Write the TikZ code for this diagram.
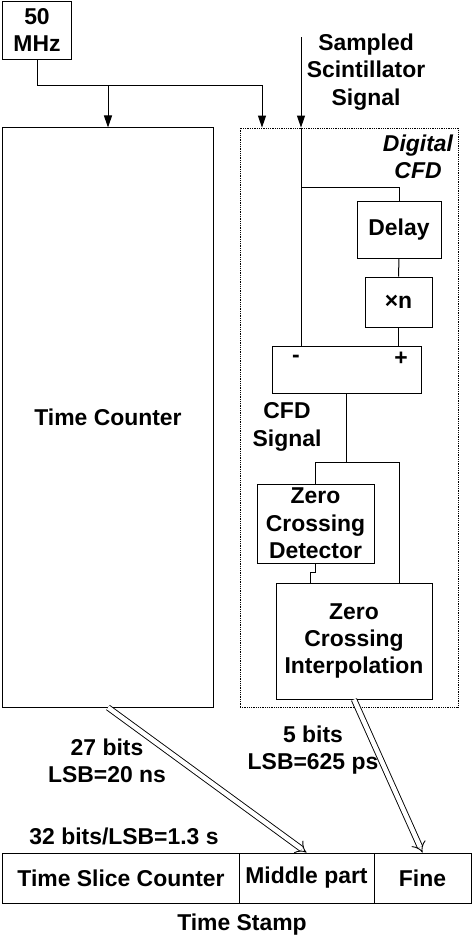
\documentclass[tikz,border=0pt]{standalone}
\usepackage{fontspec}
\setmainfont{Liberation Sans}
\usetikzlibrary{arrows.meta, positioning, calc}

\tikzset{
  blk/.style={draw, line width=1bp, align=center, inner sep=0pt},
  lbl/.style={align=center, inner sep=0pt},
  wire/.style={line width=1bp},
  feed/.style={wire, -{Triangle[length=12bp, width=8bp]}},
  bus/.style={line width=0.9bp, double, double distance=4.5bp, -{Implies[scale=1.5]}},
}

\begin{document}
\begin{tikzpicture}[x=1bp, y=-1bp, font=\fontsize{23}{27.5}\selectfont\bfseries]
    \useasboundingbox (0,0) rectangle (474,939);
    \node[blk, minimum width=68bp, minimum height=58bp] (clk) at (37,30) {50\\MHz};
    \node[blk, minimum width=210bp, minimum height=579bp] (tc) at (108,417.5) {Time Counter};
    \node[draw, densely dotted, line width=0.8bp, minimum width=218bp, minimum height=579bp] (cfd) at (349,417.5) {};
    \node[lbl, font=\fontsize{23}{27.5}\selectfont\bfseries\itshape] (cfdlab) at (418,157) {Digital\\CFD};
    \node[lbl] (siglab) at (366,72) {Sampled\\Scintillator\\Signal};
    \node[blk, minimum width=84bp, minimum height=57bp] (delay) at (399,229.5) {Delay};
    \node[blk, minimum width=67bp, minimum height=50bp] (mult) at (398.5,302) {×n};
    \node[blk, minimum width=149bp, minimum height=47bp] (sub) at (346.5,369.5) {};
    \node[lbl] (minus) at (296,359) {-};
    \node[lbl] (plus) at (401,359) {+};
    \node[lbl] (cfdsig) at (287,427) {CFD\\Signal};
    \node[blk, minimum width=117bp, minimum height=79bp] (zcd) at (315.5,523.5) {Zero\\Crossing\\Detector};
    \node[blk, minimum width=156bp, minimum height=116bp] (zci) at (354,641) {Zero\\Crossing\\Interpolation};
    \foreach \nm/\cx/\w/\txt in {%
      tsc/121/236/{Time Slice Counter},
      mid/306.5/135/{Middle part},
      fine/422.5/97/{Fine}}{%
      \node[blk, minimum width=\w bp, minimum height=50bp] (\nm) at (\cx,878) {\txt};
    }
    \node[lbl] (stamp) at (242,925) {Time Stamp};
    \node[lbl] (coarse) at (124,836) {32 bits/LSB=1.3 s};
    \node[lbl] (midlab) at (107,761) {27 bits\\LSB=20 ns};
    \node[lbl] (finelab) at (313,750) {5 bits\\LSB=625 ps};

    \coordinate (ck) at (262,85);
    \draw[wire] (clk.south) |- (ck);
    \draw[feed] (ck) -- (ck |- cfd.north);
    \draw[feed] (tc.north |- ck) -- (tc.north);

    \coordinate (sig) at (301,37);
    \coordinate (tap) at (301,187);
    \draw[feed] (sig) -- (sig |- cfd.north);
    \draw[wire] (sig |- cfd.north) -- (tap) -| (delay.north);
    \draw[wire] (tap) -- (tap |- sub.north);
    \draw[wire] (delay.south) -- (mult.north);
    \draw[wire] (mult.south) -- (mult.south |- sub.north);

    \draw[wire] (sub.south) -- ++(0,69) coordinate (cs);
    \draw[wire] (zcd.north) |- (cs) -| ([xshift=45bp]zci.north);
    \draw[wire] (zcd.south) -- ++(0,9) -| ([xshift=-44bp]zci.north);

    \draw[bus] (tc.south) -- (mid.north);
    \draw[bus] (zci.south) -- (fine.north);
  \end{tikzpicture}
\end{document}
